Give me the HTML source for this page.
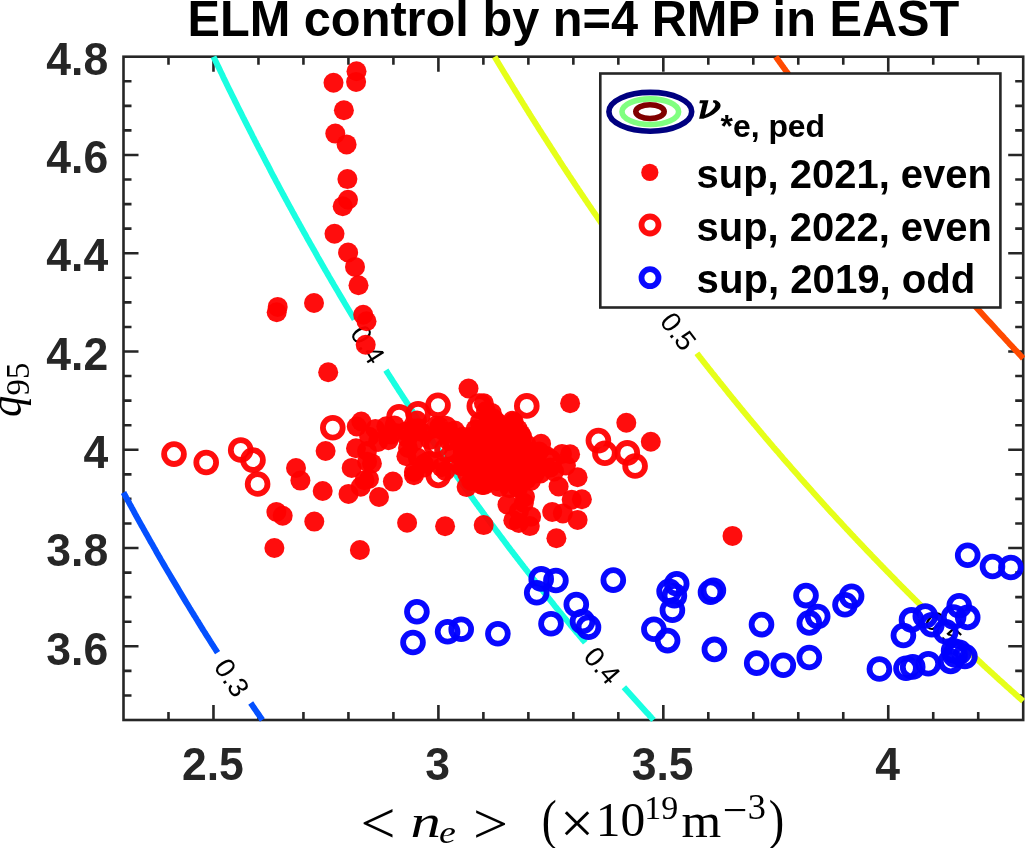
<!DOCTYPE html>
<html lang="en"><head><meta charset="utf-8"><title>ELM control by n=4 RMP in EAST</title>
<style>html,body{margin:0;padding:0;background:#fff;}body{width:1025px;height:848px;overflow:hidden;}svg{display:block;}.sans{font-family:"Liberation Sans",Arial,Helvetica,sans-serif;}.serif{font-family:"Liberation Serif","DejaVu Serif",serif;}.dserif{font-family:"DejaVu Serif","Liberation Serif",serif;}</style></head><body>
<svg width="1025" height="848" viewBox="0 0 1025 848">
<rect x="0" y="0" width="1025" height="848" fill="#fff"/>
<defs><clipPath id="ax"><rect x="123.5" y="56.7" width="899.7" height="663.3"/></clipPath></defs>
<g stroke="#262626" stroke-width="2.6" fill="none" stroke-linecap="butt">
<path d="M168.49 720.0 V712.00 M168.49 56.7 V64.70 M213.47 720.0 V705.00 M213.47 56.7 V71.70 M258.46 720.0 V712.00 M258.46 56.7 V64.70 M303.44 720.0 V712.00 M303.44 56.7 V64.70 M348.43 720.0 V712.00 M348.43 56.7 V64.70 M393.41 720.0 V712.00 M393.41 56.7 V64.70 M438.40 720.0 V705.00 M438.40 56.7 V71.70 M483.38 720.0 V712.00 M483.38 56.7 V64.70 M528.37 720.0 V712.00 M528.37 56.7 V64.70 M573.35 720.0 V712.00 M573.35 56.7 V64.70 M618.34 720.0 V712.00 M618.34 56.7 V64.70 M663.32 720.0 V705.00 M663.32 56.7 V71.70 M708.31 720.0 V712.00 M708.31 56.7 V64.70 M753.29 720.0 V712.00 M753.29 56.7 V64.70 M798.28 720.0 V712.00 M798.28 56.7 V64.70 M843.26 720.0 V712.00 M843.26 56.7 V64.70 M888.25 720.0 V705.00 M888.25 56.7 V71.70 M933.23 720.0 V712.00 M933.23 56.7 V64.70 M978.22 720.0 V712.00 M978.22 56.7 V64.70 M123.5 695.43 H131.50 M1023.2 695.43 H1015.20 M123.5 670.87 H131.50 M1023.2 670.87 H1015.20 M123.5 646.30 H138.50 M1023.2 646.30 H1008.20 M123.5 621.73 H131.50 M1023.2 621.73 H1015.20 M123.5 597.17 H131.50 M1023.2 597.17 H1015.20 M123.5 572.60 H131.50 M1023.2 572.60 H1015.20 M123.5 548.03 H138.50 M1023.2 548.03 H1008.20 M123.5 523.47 H131.50 M1023.2 523.47 H1015.20 M123.5 498.90 H131.50 M1023.2 498.90 H1015.20 M123.5 474.33 H131.50 M1023.2 474.33 H1015.20 M123.5 449.77 H138.50 M1023.2 449.77 H1008.20 M123.5 425.20 H131.50 M1023.2 425.20 H1015.20 M123.5 400.63 H131.50 M1023.2 400.63 H1015.20 M123.5 376.07 H131.50 M1023.2 376.07 H1015.20 M123.5 351.50 H138.50 M1023.2 351.50 H1008.20 M123.5 326.93 H131.50 M1023.2 326.93 H1015.20 M123.5 302.37 H131.50 M1023.2 302.37 H1015.20 M123.5 277.80 H131.50 M1023.2 277.80 H1015.20 M123.5 253.23 H138.50 M1023.2 253.23 H1008.20 M123.5 228.67 H131.50 M1023.2 228.67 H1015.20 M123.5 204.10 H131.50 M1023.2 204.10 H1015.20 M123.5 179.53 H131.50 M1023.2 179.53 H1015.20 M123.5 154.97 H138.50 M1023.2 154.97 H1008.20 M123.5 130.40 H131.50 M1023.2 130.40 H1015.20 M123.5 105.83 H131.50 M1023.2 105.83 H1015.20 M123.5 81.27 H131.50 M1023.2 81.27 H1015.20"/>
<rect x="123.5" y="56.7" width="899.7" height="663.3" stroke-linejoin="miter"/>
</g>
<g>
<path d="M123.5 492.5 L124.4 494.2 L125.3 495.8 L126.2 497.5 L127.1 499.1 L128.0 500.8 L128.9 502.4 L129.8 504.1 L130.7 505.7 L131.6 507.4 L132.5 509.0 L133.4 510.6 L134.3 512.3 L135.1 513.9 L136.0 515.5 L136.9 517.1 L137.8 518.8 L138.7 520.4 L139.6 522.0 L140.5 523.6 L141.4 525.2 L142.3 526.8 L143.2 528.4 L144.1 530.0 L145.0 531.6 L145.9 533.2 L146.8 534.8 L147.7 536.4 L148.6 538.0 L149.5 539.6 L150.4 541.2 L151.3 542.8 L152.2 544.3 L153.1 545.9 L154.0 547.5 L154.9 549.0 L155.8 550.6 L156.6 552.2 L157.5 553.7 L158.4 555.3 L159.3 556.9 L160.2 558.4 L161.1 560.0 L162.0 561.5 L162.9 563.1 L163.8 564.6 L164.7 566.1 L165.6 567.7 L166.5 569.2 L167.4 570.7 L168.3 572.3 L169.2 573.8 L170.1 575.3 L171.0 576.9 L171.9 578.4 L172.8 579.9 L173.7 581.4 L174.6 582.9 L175.5 584.4 L176.4 585.9 L177.3 587.4 L178.2 588.9 L179.0 590.4 L179.9 591.9 L180.8 593.4 L181.7 594.9 L182.6 596.4 L183.5 597.9 L184.4 599.4 L185.3 600.9 L186.2 602.4 L187.1 603.8 L188.0 605.3 L188.9 606.8 L189.8 608.3 L190.7 609.7 L191.6 611.2 L192.5 612.7 L193.4 614.1 L194.3 615.6 L195.2 617.0 L196.1 618.5 L197.0 620.0 L197.9 621.4 L198.8 622.9 L199.7 624.3 L200.5 625.7 L201.4 627.2 L202.3 628.6 L203.2 630.1 L204.1 631.5 L205.0 632.9 L205.9 634.4 L206.8 635.8 L207.7 637.2 L208.6 638.6 L209.5 640.0 L210.4 641.5 L211.3 642.9 L212.2 644.3 L213.1 645.7 L214.0 647.1 L214.9 648.5 L215.8 649.9 L216.7 651.3 L217.6 652.7 M250.7 703.0 L251.6 704.3 L252.5 705.6 L253.4 707.0 L254.3 708.3 L255.2 709.6 L256.1 710.9 L257.0 712.2 L257.9 713.5 L258.8 714.8 L259.7 716.1 L260.6 717.4 L261.5 718.7 L262.4 720.0" fill="none" stroke="#0450ff" stroke-width="6" stroke-linecap="butt" stroke-linejoin="round"/>
<text class="sans" x="232.1" y="677.6" font-size="28" text-anchor="middle" dy="10" fill="#000" transform="rotate(56.6 232.1 677.6)">0.3</text>
<path d="M213.5 56.7 L214.4 58.6 L215.3 60.5 L216.2 62.3 L217.1 64.2 L218.0 66.1 L218.9 67.9 L219.8 69.8 L220.7 71.7 L221.6 73.5 L222.5 75.4 L223.3 77.2 L224.2 79.1 L225.1 80.9 L226.0 82.8 L226.9 84.6 L227.8 86.5 L228.7 88.3 L229.6 90.1 L230.5 91.9 L231.4 93.8 L232.3 95.6 L233.2 97.4 L234.1 99.2 L235.0 101.1 L235.9 102.9 L236.8 104.7 L237.7 106.5 L238.6 108.3 L239.5 110.1 L240.4 111.9 L241.3 113.7 L242.2 115.5 L243.1 117.3 L244.0 119.0 L244.9 120.8 L245.8 122.6 L246.7 124.4 L247.6 126.2 L248.5 127.9 L249.4 129.7 L250.3 131.5 L251.2 133.2 L252.1 135.0 L253.0 136.8 L253.9 138.5 L254.8 140.3 L255.7 142.0 L256.6 143.8 L257.5 145.5 L258.4 147.3 L259.3 149.0 L260.2 150.7 L261.1 152.5 L262.0 154.2 L262.9 155.9 L263.8 157.7 L264.7 159.4 L265.6 161.1 L266.5 162.8 L267.4 164.5 L268.3 166.2 L269.2 168.0 L270.1 169.7 L270.9 171.4 L271.8 173.1 L272.7 174.8 L273.6 176.5 L274.5 178.2 L275.4 179.9 L276.3 181.6 L277.2 183.2 L278.1 184.9 L279.0 186.6 L279.9 188.3 L280.8 190.0 L281.7 191.6 L282.6 193.3 L283.5 195.0 L284.4 196.7 L285.3 198.3 L286.2 200.0 L287.1 201.6 L288.0 203.3 L288.9 205.0 L289.8 206.6 L290.7 208.3 L291.6 209.9 L292.5 211.6 L293.4 213.2 L294.3 214.8 L295.2 216.5 L296.1 218.1 L297.0 219.7 L297.9 221.4 L298.8 223.0 L299.7 224.6 L300.6 226.3 L301.5 227.9 L302.4 229.5 L303.3 231.1 L304.2 232.7 L305.1 234.3 L306.0 235.9 L306.9 237.6 L307.8 239.2 L308.7 240.8 L309.6 242.4 L310.5 244.0 L311.4 245.5 L312.3 247.1 L313.2 248.7 L314.1 250.3 L315.0 251.9 L315.9 253.5 L316.8 255.1 L317.6 256.6 L318.5 258.2 L319.4 259.8 L320.3 261.4 L321.2 262.9 L322.1 264.5 L323.0 266.1 L323.9 267.6 L324.8 269.2 L325.7 270.8 L326.6 272.3 L327.5 273.9 L328.4 275.4 L329.3 277.0 L330.2 278.5 L331.1 280.1 L332.0 281.6 L332.9 283.1 L333.8 284.7 L334.7 286.2 L335.6 287.7 L336.5 289.3 L337.4 290.8 L338.3 292.3 L339.2 293.9 L340.1 295.4 L341.0 296.9 L341.9 298.4 L342.8 299.9 L343.7 301.4 L344.6 303.0 L345.5 304.5 L346.4 306.0 L347.3 307.5 L348.2 309.0 L349.1 310.5 L350.0 312.0 L350.9 313.5 L351.8 315.0 L352.7 316.5 L353.6 318.0 L354.5 319.4 M385.9 370.2 L386.8 371.6 L387.7 373.1 L388.6 374.5 L389.5 375.9 L390.4 377.3 L391.3 378.7 L392.2 380.1 L393.1 381.5 L394.0 382.9 L394.9 384.3 L395.8 385.7 L396.7 387.1 L397.6 388.5 L398.5 389.9 L399.4 391.3 L400.3 392.6 L401.2 394.0 L402.1 395.4 L403.0 396.8 L403.9 398.2 L404.8 399.5 L405.7 400.9 L406.6 402.3 L407.5 403.7 L408.4 405.0 L409.3 406.4 L410.2 407.8 L411.1 409.1 L412.0 410.5 L412.8 411.8 L413.7 413.2 L414.6 414.6 L415.5 415.9 L416.4 417.3 L417.3 418.6 L418.2 420.0 L419.1 421.3 L420.0 422.7 L420.9 424.0 L421.8 425.3 L422.7 426.7 L423.6 428.0 L424.5 429.4 L425.4 430.7 L426.3 432.0 L427.2 433.4 L428.1 434.7 L429.0 436.0 L429.9 437.3 L430.8 438.7 L431.7 440.0 L432.6 441.3 L433.5 442.6 L434.4 443.9 L435.3 445.3 L436.2 446.6 L437.1 447.9 L438.0 449.2 L438.9 450.5 L439.8 451.8 L440.7 453.1 L441.6 454.4 L442.5 455.7 L443.4 457.0 L444.3 458.3 L445.2 459.6 L446.1 460.9 L447.0 462.2 L447.9 463.5 L448.8 464.8 L449.7 466.1 L450.6 467.3 L451.5 468.6 L452.4 469.9 L453.3 471.2 L454.2 472.5 L455.1 473.7 L456.0 475.0 L456.9 476.3 L457.8 477.6 L458.7 478.8 L459.6 480.1 L460.4 481.4 L461.3 482.6 L462.2 483.9 L463.1 485.2 L464.0 486.4 L464.9 487.7 L465.8 488.9 L466.7 490.2 L467.6 491.4 L468.5 492.7 L469.4 493.9 L470.3 495.2 L471.2 496.4 L472.1 497.7 L473.0 498.9 L473.9 500.2 L474.8 501.4 L475.7 502.7 L476.6 503.9 L477.5 505.1 L478.4 506.4 L479.3 507.6 L480.2 508.8 L481.1 510.1 L482.0 511.3 L482.9 512.5 L483.8 513.7 L484.7 515.0 L485.6 516.2 L486.5 517.4 L487.4 518.6 L488.3 519.8 L489.2 521.1 L490.1 522.3 L491.0 523.5 L491.9 524.7 L492.8 525.9 L493.7 527.1 L494.6 528.3 L495.5 529.5 L496.4 530.7 L497.3 531.9 L498.2 533.1 L499.1 534.3 L500.0 535.5 L500.9 536.7 L501.8 537.9 L502.7 539.1 L503.6 540.3 L504.5 541.5 L505.4 542.7 L506.3 543.9 L507.1 545.0 L508.0 546.2 L508.9 547.4 L509.8 548.6 L510.7 549.8 L511.6 550.9 L512.5 552.1 L513.4 553.3 L514.3 554.5 L515.2 555.6 L516.1 556.8 L517.0 558.0 L517.9 559.1 L518.8 560.3 L519.7 561.5 L520.6 562.6 L521.5 563.8 L522.4 565.0 L523.3 566.1 L524.2 567.3 L525.1 568.4 L526.0 569.6 L526.9 570.7 L527.8 571.9 L528.7 573.0 L529.6 574.2 L530.5 575.3 L531.4 576.5 L532.3 577.6 L533.2 578.8 L534.1 579.9 L535.0 581.0 L535.9 582.2 L536.8 583.3 L537.7 584.5 L538.6 585.6 L539.5 586.7 L540.4 587.9 L541.3 589.0 L542.2 590.1 L543.1 591.2 L544.0 592.4 L544.9 593.5 L545.8 594.6 L546.7 595.7 L547.6 596.9 L548.5 598.0 L549.4 599.1 L550.3 600.2 L551.2 601.3 L552.1 602.4 L553.0 603.5 L553.9 604.7 L554.7 605.8 L555.6 606.9 L556.5 608.0 L557.4 609.1 L558.3 610.2 L559.2 611.3 L560.1 612.4 L561.0 613.5 L561.9 614.6 L562.8 615.7 L563.7 616.8 L564.6 617.9 L565.5 619.0 L566.4 620.1 L567.3 621.1 L568.2 622.2 L569.1 623.3 L570.0 624.4 L570.9 625.5 L571.8 626.6 L572.7 627.7 L573.6 628.7 L574.5 629.8 L575.4 630.9 L576.3 632.0 L577.2 633.1 L578.1 634.1 L579.0 635.2 L579.9 636.3 L580.8 637.3 L581.7 638.4 L582.6 639.5 L583.5 640.6 L584.4 641.6 L585.3 642.7 M623.9 687.3 L624.8 688.3 L625.7 689.3 L626.6 690.3 L627.5 691.3 L628.4 692.3 L629.3 693.3 L630.2 694.3 L631.1 695.3 L632.0 696.3 L632.9 697.3 L633.8 698.3 L634.7 699.3 L635.6 700.3 L636.5 701.3 L637.4 702.3 L638.3 703.3 L639.2 704.3 L640.1 705.3 L641.0 706.3 L641.9 707.3 L642.8 708.2 L643.7 709.2 L644.6 710.2 L645.5 711.2 L646.4 712.2 L647.3 713.2 L648.2 714.1 L649.1 715.1 L649.9 716.1 L650.8 717.1 L651.7 718.1 L652.6 719.0 L653.5 720.0" fill="none" stroke="#19ffe1" stroke-width="6" stroke-linecap="butt" stroke-linejoin="round"/>
<text class="sans" x="367.9" y="344.4" font-size="28" text-anchor="middle" dy="10" fill="#000" transform="rotate(58.3 367.9 344.4)">0.4</text>
<text class="sans" x="602.6" y="665.4" font-size="28" text-anchor="middle" dy="10" fill="#000" transform="rotate(49.1 602.6 665.4)">0.4</text>
<path d="M494.6 56.7 L495.5 58.2 L496.4 59.7 L497.3 61.2 L498.2 62.7 L499.1 64.2 L500.0 65.7 L500.9 67.2 L501.8 68.7 L502.7 70.2 L503.6 71.7 L504.5 73.2 L505.4 74.7 L506.3 76.1 L507.2 77.6 L508.1 79.1 L509.0 80.6 L509.9 82.1 L510.8 83.5 L511.7 85.0 L512.6 86.5 L513.5 88.0 L514.4 89.4 L515.3 90.9 L516.2 92.3 L517.1 93.8 L518.0 95.3 L518.9 96.7 L519.8 98.2 L520.7 99.6 L521.6 101.1 L522.5 102.5 L523.4 104.0 L524.3 105.4 L525.2 106.9 L526.1 108.3 L527.0 109.8 L527.9 111.2 L528.8 112.6 L529.7 114.1 L530.6 115.5 L531.5 117.0 L532.4 118.4 L533.3 119.8 L534.2 121.2 L535.1 122.7 L536.0 124.1 L536.9 125.5 L537.8 126.9 L538.7 128.4 L539.6 129.8 L540.5 131.2 L541.4 132.6 L542.3 134.0 L543.2 135.4 L544.1 136.8 L545.0 138.2 L545.9 139.6 L546.8 141.0 L547.7 142.4 L548.6 143.8 L549.5 145.2 L550.4 146.6 L551.3 148.0 L552.2 149.4 L553.1 150.8 L554.0 152.2 L554.9 153.6 L555.8 155.0 L556.7 156.4 L557.6 157.7 L558.5 159.1 L559.3 160.5 L560.2 161.9 L561.1 163.3 L562.0 164.6 L562.9 166.0 L563.8 167.4 L564.7 168.7 L565.6 170.1 L566.5 171.5 L567.4 172.8 L568.3 174.2 L569.2 175.6 L570.1 176.9 L571.0 178.3 L571.9 179.6 L572.8 181.0 L573.7 182.3 L574.6 183.7 L575.5 185.0 L576.4 186.4 L577.3 187.7 L578.2 189.1 L579.1 190.4 L580.0 191.8 L580.9 193.1 L581.8 194.4 L582.7 195.8 L583.6 197.1 L584.5 198.4 L585.4 199.8 L586.3 201.1 L587.2 202.4 L588.1 203.8 L589.0 205.1 L589.9 206.4 L590.8 207.7 L591.7 209.1 L592.6 210.4 L593.5 211.7 L594.4 213.0 L595.3 214.3 L596.2 215.6 L597.1 216.9 L598.0 218.3 L598.9 219.6 L599.8 220.9 L600.7 222.2 L601.6 223.5 L602.5 224.8 L603.4 226.1 L604.3 227.4 L605.2 228.7 L606.1 230.0 L607.0 231.3 L607.9 232.6 L608.8 233.8 L609.7 235.1 L610.6 236.4 L611.5 237.7 L612.4 239.0 L613.3 240.3 L614.2 241.6 L615.1 242.8 L616.0 244.1 L616.9 245.4 L617.8 246.7 L618.7 247.9 L619.6 249.2 L620.5 250.5 L621.4 251.8 L622.3 253.0 L623.2 254.3 L624.1 255.6 L625.0 256.8 L625.9 258.1 L626.8 259.3 L627.7 260.6 L628.6 261.9 L629.5 263.1 L630.4 264.4 L631.3 265.6 L632.2 266.9 L633.1 268.1 L634.0 269.4 L634.9 270.6 L635.8 271.9 L636.7 273.1 L637.6 274.4 L638.5 275.6 L639.4 276.8 L640.3 278.1 L641.2 279.3 L642.1 280.6 L643.0 281.8 L643.8 283.0 L644.7 284.3 L645.6 285.5 L646.5 286.7 L647.4 287.9 L648.3 289.2 L649.2 290.4 L650.1 291.6 L651.0 292.8 L651.9 294.1 L652.8 295.3 L653.7 296.5 L654.6 297.7 L655.5 298.9 L656.4 300.1 L657.3 301.3 L658.2 302.6 L659.1 303.8 M696.9 353.3 L697.8 354.5 L698.7 355.6 L699.6 356.8 L700.5 357.9 L701.4 359.1 L702.3 360.2 L703.2 361.4 L704.1 362.5 L705.0 363.7 L705.9 364.8 L706.8 365.9 L707.7 367.1 L708.6 368.2 L709.5 369.4 L710.4 370.5 L711.3 371.6 L712.2 372.8 L713.1 373.9 L714.0 375.0 L714.9 376.1 L715.8 377.3 L716.7 378.4 L717.6 379.5 L718.5 380.6 L719.4 381.8 L720.3 382.9 L721.2 384.0 L722.1 385.1 L723.0 386.2 L723.9 387.3 L724.8 388.5 L725.7 389.6 L726.6 390.7 L727.5 391.8 L728.3 392.9 L729.2 394.0 L730.1 395.1 L731.0 396.2 L731.9 397.3 L732.8 398.4 L733.7 399.5 L734.6 400.6 L735.5 401.7 L736.4 402.8 L737.3 403.9 L738.2 405.0 L739.1 406.1 L740.0 407.2 L740.9 408.3 L741.8 409.4 L742.7 410.5 L743.6 411.6 L744.5 412.7 L745.4 413.8 L746.3 414.8 L747.2 415.9 L748.1 417.0 L749.0 418.1 L749.9 419.2 L750.8 420.3 L751.7 421.3 L752.6 422.4 L753.5 423.5 L754.4 424.6 L755.3 425.6 L756.2 426.7 L757.1 427.8 L758.0 428.8 L758.9 429.9 L759.8 431.0 L760.7 432.0 L761.6 433.1 L762.5 434.2 L763.4 435.2 L764.3 436.3 L765.2 437.4 L766.1 438.4 L767.0 439.5 L767.9 440.5 L768.8 441.6 L769.7 442.7 L770.6 443.7 L771.5 444.8 L772.4 445.8 L773.3 446.9 L774.2 447.9 L775.1 449.0 L776.0 450.0 L776.9 451.1 L777.8 452.1 L778.7 453.1 L779.6 454.2 L780.5 455.2 L781.4 456.3 L782.3 457.3 L783.2 458.4 L784.1 459.4 L785.0 460.4 L785.9 461.5 L786.8 462.5 L787.7 463.5 L788.6 464.6 L789.5 465.6 L790.4 466.6 L791.3 467.7 L792.2 468.7 L793.1 469.7 L794.0 470.7 L794.9 471.8 L795.8 472.8 L796.7 473.8 L797.6 474.8 L798.5 475.8 L799.4 476.9 L800.3 477.9 L801.2 478.9 L802.1 479.9 L803.0 480.9 L803.9 481.9 L804.8 483.0 L805.7 484.0 L806.6 485.0 L807.5 486.0 L808.4 487.0 L809.3 488.0 L810.2 489.0 L811.1 490.0 L812.0 491.0 L812.8 492.0 L813.7 493.0 L814.6 494.0 L815.5 495.0 L816.4 496.0 L817.3 497.0 L818.2 498.0 L819.1 499.0 L820.0 500.0 L820.9 501.0 L821.8 502.0 L822.7 503.0 L823.6 504.0 L824.5 505.0 L825.4 506.0 L826.3 506.9 L827.2 507.9 L828.1 508.9 L829.0 509.9 L829.9 510.9 L830.8 511.9 L831.7 512.9 L832.6 513.8 L833.5 514.8 L834.4 515.8 L835.3 516.8 L836.2 517.7 L837.1 518.7 L838.0 519.7 L838.9 520.7 L839.8 521.6 L840.7 522.6 L841.6 523.6 L842.5 524.6 L843.4 525.5 L844.3 526.5 L845.2 527.5 L846.1 528.4 L847.0 529.4 L847.9 530.3 L848.8 531.3 L849.7 532.3 L850.6 533.2 L851.5 534.2 L852.4 535.2 L853.3 536.1 L854.2 537.1 L855.1 538.0 L856.0 539.0 L856.9 539.9 L857.8 540.9 L858.7 541.8 L859.6 542.8 L860.5 543.7 L861.4 544.7 L862.3 545.6 L863.2 546.6 L864.1 547.5 L865.0 548.5 L865.9 549.4 L866.8 550.4 L867.7 551.3 L868.6 552.2 L869.5 553.2 L870.4 554.1 L871.3 555.1 L872.2 556.0 L873.1 556.9 L874.0 557.9 L874.9 558.8 L875.8 559.7 L876.7 560.7 L877.6 561.6 L878.5 562.5 L879.4 563.5 L880.3 564.4 L881.2 565.3 L882.1 566.3 L883.0 567.2 L883.9 568.1 L884.8 569.0 L885.7 570.0 L886.6 570.9 L887.5 571.8 L888.4 572.7 L889.3 573.6 L890.2 574.6 L891.1 575.5 L892.0 576.4 L892.9 577.3 L893.8 578.2 L894.7 579.1 L895.6 580.1 L896.5 581.0 L897.3 581.9 L898.2 582.8 L899.1 583.7 L900.0 584.6 L900.9 585.5 L901.8 586.4 L902.7 587.3 L903.6 588.2 L904.5 589.1 L905.4 590.0 L906.3 590.9 L907.2 591.8 L908.1 592.7 L909.0 593.6 L909.9 594.5 L910.8 595.4 L911.7 596.3 L912.6 597.2 L913.5 598.1 L914.4 599.0 L915.3 599.9 L916.2 600.8 L917.1 601.7 L918.0 602.6 L918.9 603.5 L919.8 604.4 L920.7 605.3 L921.6 606.2 M966.6 649.5 L967.5 650.3 L968.4 651.1 L969.3 652.0 L970.2 652.8 L971.1 653.7 L972.0 654.5 L972.9 655.4 L973.8 656.2 L974.7 657.0 L975.6 657.9 L976.5 658.7 L977.4 659.5 L978.3 660.4 L979.2 661.2 L980.1 662.0 L981.0 662.9 L981.8 663.7 L982.7 664.5 L983.6 665.4 L984.5 666.2 L985.4 667.0 L986.3 667.9 L987.2 668.7 L988.1 669.5 L989.0 670.3 L989.9 671.2 L990.8 672.0 L991.7 672.8 L992.6 673.6 L993.5 674.5 L994.4 675.3 L995.3 676.1 L996.2 676.9 L997.1 677.7 L998.0 678.6 L998.9 679.4 L999.8 680.2 L1000.7 681.0 L1001.6 681.8 L1002.5 682.6 L1003.4 683.4 L1004.3 684.3 L1005.2 685.1 L1006.1 685.9 L1007.0 686.7 L1007.9 687.5 L1008.8 688.3 L1009.7 689.1 L1010.6 689.9 L1011.5 690.7 L1012.4 691.5 L1013.3 692.3 L1014.2 693.1 L1015.1 693.9 L1016.0 694.8 L1016.9 695.6 L1017.8 696.4 L1018.7 697.2 L1019.6 698.0 L1020.5 698.8 L1021.4 699.6 L1022.3 700.3 L1023.2 701.1" fill="none" stroke="#e6ff19" stroke-width="6" stroke-linecap="butt" stroke-linejoin="round"/>
<text class="sans" x="678.5" y="331.2" font-size="28" text-anchor="middle" dy="10" fill="#000" transform="rotate(52.7 678.5 331.2)">0.5</text>
<text class="sans" x="943.1" y="629.1" font-size="28" text-anchor="middle" dy="10" fill="#000" transform="rotate(43.9 943.1 629.1)">0.5</text>
<path d="M775.8 56.7 L776.7 58.0 L777.6 59.2 L778.5 60.5 L779.4 61.7 L780.3 63.0 L781.2 64.2 L782.1 65.5 L783.0 66.7 L783.9 68.0 L784.8 69.2 L785.7 70.5 L786.6 71.7 L787.5 72.9 L788.4 74.2 L789.3 75.4 L790.2 76.7 L791.1 77.9 L792.0 79.1 L792.9 80.4 L793.8 81.6 L794.7 82.8 L795.6 84.1 L796.5 85.3 L797.4 86.5 L798.3 87.7 L799.2 89.0 L800.1 90.2 L801.0 91.4 L801.9 92.6 L802.8 93.8 L803.7 95.1 L804.6 96.3 L805.5 97.5 L806.4 98.7 L807.3 99.9 L808.2 101.1 L809.1 102.3 L810.0 103.5 L810.9 104.8 L811.8 106.0 L812.7 107.2 L813.6 108.4 L814.5 109.6 L815.4 110.8 L816.3 112.0 L817.2 113.2 L818.1 114.4 L819.0 115.6 L819.9 116.8 L820.8 118.0 L821.7 119.1 L822.6 120.3 L823.5 121.5 L824.4 122.7 L825.3 123.9 L826.2 125.1 L827.1 126.3 L828.0 127.5 L828.9 128.6 L829.8 129.8 L830.7 131.0 L831.6 132.2 L832.5 133.4 L833.4 134.5 L834.3 135.7 L835.2 136.9 L836.1 138.1 L837.0 139.2 L837.9 140.4 L838.8 141.6 L839.7 142.7 L840.6 143.9 L841.5 145.1 L842.4 146.2 L843.3 147.4 L844.2 148.6 L845.1 149.7 L846.0 150.9 L846.9 152.0 L847.8 153.2 L848.7 154.4 L849.6 155.5 L850.5 156.7 L851.4 157.8 L852.3 159.0 L853.2 160.1 L854.1 161.3 L855.0 162.4 L855.9 163.6 L856.8 164.7 L857.7 165.9 L858.6 167.0 L859.5 168.1 L860.4 169.3 L861.3 170.4 L862.2 171.6 L863.1 172.7 L864.0 173.8 L864.9 175.0 L865.8 176.1 L866.7 177.2 L867.6 178.4 L868.5 179.5 L869.4 180.6 L870.3 181.8 L871.2 182.9 L872.1 184.0 L873.0 185.1 L873.8 186.3 L874.7 187.4 L875.6 188.5 L876.5 189.6 L877.4 190.8 L878.3 191.9 L879.2 193.0 L880.1 194.1 L881.0 195.2 L881.9 196.3 L882.8 197.4 L883.7 198.6 L884.6 199.7 L885.5 200.8 L886.4 201.9 L887.3 203.0 L888.2 204.1 L889.1 205.2 L890.0 206.3 L890.9 207.4 L891.8 208.5 L892.7 209.6 L893.6 210.7 L894.5 211.8 L895.4 212.9 L896.3 214.0 L897.2 215.1 L898.1 216.2 L899.0 217.3 L899.9 218.4 L900.8 219.5 L901.7 220.6 L902.6 221.6 L903.5 222.7 L904.4 223.8 L905.3 224.9 L906.2 226.0 L907.1 227.1 L908.0 228.2 L908.9 229.2 L909.8 230.3 L910.7 231.4 L911.6 232.5 L912.5 233.6 L913.4 234.6 L914.3 235.7 L915.2 236.8 L916.1 237.8 L917.0 238.9 L917.9 240.0 L918.8 241.1 L919.7 242.1 L920.6 243.2 L921.5 244.3 L922.4 245.3 L923.3 246.4 L924.2 247.5 L925.1 248.5 L926.0 249.6 L926.9 250.6 L927.8 251.7 L928.7 252.8 L929.6 253.8 L930.5 254.9 L931.4 255.9 L932.3 257.0 L933.2 258.0 L934.1 259.1 L935.0 260.1 L935.9 261.2 L936.8 262.2 L937.7 263.3 L938.6 264.3 L939.5 265.4 L940.4 266.4 L941.3 267.5 L942.2 268.5 L943.1 269.5 L944.0 270.6 L944.9 271.6 L945.8 272.7 L946.7 273.7 L947.6 274.7 L948.5 275.8 L949.4 276.8 L950.3 277.8 L951.2 278.9 L952.1 279.9 L953.0 280.9 L953.9 282.0 L954.8 283.0 L955.7 284.0 L956.6 285.0 L957.5 286.1 L958.4 287.1 L959.3 288.1 L960.2 289.1 L961.1 290.2 L962.0 291.2 L962.9 292.2 L963.8 293.2 L964.7 294.2 L965.6 295.3 L966.5 296.3 L967.4 297.3 L968.3 298.3 L969.2 299.3 L970.1 300.3 L971.0 301.3 L971.9 302.3 L972.8 303.4 L973.7 304.4 L974.6 305.4 L975.5 306.4 L976.4 307.4 L977.3 308.4 L978.2 309.4 L979.1 310.4 L980.0 311.4 L980.9 312.4 L981.8 313.4 L982.7 314.4 L983.6 315.4 L984.5 316.4 L985.4 317.4 L986.3 318.4 L987.2 319.4 L988.1 320.4 L989.0 321.4 L989.9 322.3 L990.8 323.3 L991.7 324.3 L992.6 325.3 L993.5 326.3 L994.4 327.3 L995.3 328.3 L996.2 329.3 L997.1 330.2 L998.0 331.2 L998.9 332.2 L999.8 333.2 L1000.7 334.2 L1001.6 335.1 L1002.5 336.1 L1003.4 337.1 L1004.3 338.1 L1005.2 339.0 L1006.1 340.0 L1007.0 341.0 L1007.9 342.0 L1008.8 342.9 L1009.7 343.9 L1010.6 344.9 L1011.5 345.8 L1012.4 346.8 L1013.3 347.8 L1014.2 348.7 L1015.1 349.7 L1016.0 350.7 L1016.9 351.6 L1017.8 352.6 L1018.7 353.6 L1019.6 354.5 L1020.5 355.5 L1021.4 356.4 L1022.3 357.4 L1023.2 358.4" fill="none" stroke="#ff4a00" stroke-width="6" stroke-linecap="butt" stroke-linejoin="round"/>
</g>
<g>
<g fill="#ff0000" fill-opacity="0.95">
<circle cx="356.5" cy="71.2" r="10"/>
<circle cx="333.5" cy="82.7" r="10"/>
<circle cx="356.1" cy="81.9" r="10"/>
<circle cx="343.9" cy="110.2" r="10"/>
<circle cx="335.3" cy="133.6" r="10"/>
<circle cx="346.6" cy="144.4" r="10"/>
<circle cx="347.4" cy="179.1" r="10"/>
<circle cx="348.0" cy="199.8" r="10"/>
<circle cx="342.7" cy="206.2" r="10"/>
<circle cx="334.5" cy="233.7" r="10"/>
<circle cx="348.1" cy="252.5" r="10"/>
<circle cx="355.0" cy="266.9" r="10"/>
<circle cx="358.5" cy="285.2" r="10"/>
<circle cx="277.7" cy="306.9" r="10"/>
<circle cx="276.7" cy="312.2" r="10"/>
<circle cx="314.0" cy="303.0" r="10"/>
<circle cx="363.2" cy="314.7" r="10"/>
<circle cx="366.5" cy="321.3" r="10"/>
<circle cx="365.7" cy="344.8" r="10"/>
<circle cx="328.2" cy="372.3" r="10"/>
<circle cx="325.6" cy="451.0" r="10"/>
<circle cx="296.0" cy="468.0" r="10"/>
<circle cx="300.4" cy="480.6" r="10"/>
<circle cx="322.7" cy="491.0" r="10"/>
<circle cx="276.4" cy="511.9" r="10"/>
<circle cx="282.7" cy="515.8" r="10"/>
<circle cx="314.3" cy="521.6" r="10"/>
<circle cx="274.4" cy="548.0" r="10"/>
<circle cx="359.9" cy="550.0" r="10"/>
<circle cx="407.1" cy="522.8" r="10"/>
<circle cx="445.1" cy="526.3" r="10"/>
<circle cx="483.7" cy="525.1" r="10"/>
<circle cx="732.5" cy="535.9" r="10"/>
<circle cx="570.1" cy="403.2" r="10"/>
<circle cx="626.3" cy="422.7" r="10"/>
<circle cx="650.8" cy="441.7" r="10"/>
<circle cx="468.5" cy="388.5" r="10"/>
<circle cx="361.3" cy="421.5" r="10"/>
<circle cx="356.8" cy="426.5" r="10"/>
<circle cx="375.3" cy="429.0" r="10"/>
<circle cx="386.3" cy="426.2" r="10"/>
<circle cx="388.5" cy="440.2" r="10"/>
<circle cx="391.0" cy="434.6" r="10"/>
<circle cx="356.0" cy="448.3" r="10"/>
<circle cx="351.7" cy="467.9" r="10"/>
<circle cx="367.0" cy="451.0" r="10"/>
<circle cx="367.1" cy="461.7" r="10"/>
<circle cx="371.9" cy="463.4" r="10"/>
<circle cx="369.0" cy="479.0" r="10"/>
<circle cx="360.7" cy="486.8" r="10"/>
<circle cx="348.5" cy="493.9" r="10"/>
<circle cx="379.0" cy="497.0" r="10"/>
<circle cx="392.9" cy="481.6" r="10"/>
<circle cx="364.5" cy="480.3" r="10"/>
<circle cx="413.9" cy="428.5" r="10"/>
<circle cx="408.0" cy="448.0" r="10"/>
<circle cx="417.8" cy="457.8" r="10"/>
<circle cx="413.9" cy="472.0" r="10"/>
<circle cx="423.7" cy="467.6" r="10"/>
<circle cx="406.4" cy="456.2" r="10"/>
<circle cx="407.7" cy="438.4" r="10"/>
<circle cx="417.8" cy="428.3" r="10"/>
<circle cx="424.0" cy="463.8" r="10"/>
<circle cx="414.0" cy="475.2" r="10"/>
<circle cx="439.3" cy="426.6" r="10"/>
<circle cx="454.9" cy="430.5" r="10"/>
<circle cx="466.6" cy="487.1" r="10"/>
<circle cx="482.2" cy="485.1" r="10"/>
<circle cx="486.0" cy="411.0" r="10"/>
<circle cx="494.0" cy="418.8" r="10"/>
<circle cx="512.4" cy="420.7" r="10"/>
<circle cx="507.5" cy="504.6" r="10"/>
<circle cx="513.3" cy="520.2" r="10"/>
<circle cx="525.0" cy="496.8" r="10"/>
<circle cx="541.1" cy="443.8" r="10"/>
<circle cx="521.0" cy="434.4" r="10"/>
<circle cx="483.9" cy="403.2" r="10"/>
<circle cx="491.7" cy="412.9" r="10"/>
<circle cx="562.0" cy="453.9" r="10"/>
<circle cx="570.1" cy="454.3" r="10"/>
<circle cx="565.9" cy="465.6" r="10"/>
<circle cx="577.6" cy="477.3" r="10"/>
<circle cx="558.6" cy="486.5" r="10"/>
<circle cx="571.7" cy="499.8" r="10"/>
<circle cx="581.9" cy="499.2" r="10"/>
<circle cx="552.2" cy="511.9" r="10"/>
<circle cx="562.9" cy="513.4" r="10"/>
<circle cx="577.6" cy="519.9" r="10"/>
<circle cx="556.4" cy="538.3" r="10"/>
<circle cx="523.9" cy="502.7" r="10"/>
<circle cx="531.1" cy="516.7" r="10"/>
<circle cx="529.8" cy="526.1" r="10"/>
<circle cx="483.9" cy="485.1" r="10"/>
<circle cx="499.5" cy="487.1" r="10"/>
<circle cx="526.8" cy="479.3" r="10"/>
<circle cx="540.5" cy="473.4" r="10"/>
<circle cx="550.2" cy="467.6" r="10"/>
<circle cx="534.6" cy="457.8" r="10"/>
<circle cx="479.8" cy="422.1" r="10"/>
<circle cx="488.2" cy="422.1" r="10"/>
<circle cx="496.8" cy="422.1" r="10"/>
<circle cx="513.8" cy="422.1" r="10"/>
<circle cx="475.5" cy="429.4" r="10"/>
<circle cx="484.0" cy="429.4" r="10"/>
<circle cx="492.5" cy="429.4" r="10"/>
<circle cx="501.0" cy="429.4" r="10"/>
<circle cx="509.5" cy="429.4" r="10"/>
<circle cx="518.0" cy="429.4" r="10"/>
<circle cx="462.8" cy="436.8" r="10"/>
<circle cx="471.2" cy="436.8" r="10"/>
<circle cx="479.8" cy="436.8" r="10"/>
<circle cx="488.2" cy="436.8" r="10"/>
<circle cx="496.8" cy="436.8" r="10"/>
<circle cx="505.2" cy="436.8" r="10"/>
<circle cx="513.8" cy="436.8" r="10"/>
<circle cx="522.2" cy="436.8" r="10"/>
<circle cx="467.0" cy="444.2" r="10"/>
<circle cx="475.5" cy="444.2" r="10"/>
<circle cx="484.0" cy="444.2" r="10"/>
<circle cx="492.5" cy="444.2" r="10"/>
<circle cx="501.0" cy="444.2" r="10"/>
<circle cx="509.5" cy="444.2" r="10"/>
<circle cx="518.0" cy="444.2" r="10"/>
<circle cx="526.5" cy="444.2" r="10"/>
<circle cx="462.8" cy="451.5" r="10"/>
<circle cx="471.2" cy="451.5" r="10"/>
<circle cx="479.8" cy="451.5" r="10"/>
<circle cx="488.2" cy="451.5" r="10"/>
<circle cx="496.8" cy="451.5" r="10"/>
<circle cx="505.2" cy="451.5" r="10"/>
<circle cx="513.8" cy="451.5" r="10"/>
<circle cx="522.2" cy="451.5" r="10"/>
<circle cx="530.8" cy="451.5" r="10"/>
<circle cx="539.2" cy="451.5" r="10"/>
<circle cx="467.0" cy="458.9" r="10"/>
<circle cx="475.5" cy="458.9" r="10"/>
<circle cx="484.0" cy="458.9" r="10"/>
<circle cx="492.5" cy="458.9" r="10"/>
<circle cx="501.0" cy="458.9" r="10"/>
<circle cx="509.5" cy="458.9" r="10"/>
<circle cx="518.0" cy="458.9" r="10"/>
<circle cx="526.5" cy="458.9" r="10"/>
<circle cx="535.0" cy="458.9" r="10"/>
<circle cx="462.8" cy="466.2" r="10"/>
<circle cx="471.2" cy="466.2" r="10"/>
<circle cx="479.8" cy="466.2" r="10"/>
<circle cx="488.2" cy="466.2" r="10"/>
<circle cx="496.8" cy="466.2" r="10"/>
<circle cx="505.2" cy="466.2" r="10"/>
<circle cx="513.8" cy="466.2" r="10"/>
<circle cx="522.2" cy="466.2" r="10"/>
<circle cx="530.8" cy="466.2" r="10"/>
<circle cx="539.2" cy="466.2" r="10"/>
<circle cx="467.0" cy="473.6" r="10"/>
<circle cx="475.5" cy="473.6" r="10"/>
<circle cx="484.0" cy="473.6" r="10"/>
<circle cx="492.5" cy="473.6" r="10"/>
<circle cx="501.0" cy="473.6" r="10"/>
<circle cx="509.5" cy="473.6" r="10"/>
<circle cx="518.0" cy="473.6" r="10"/>
<circle cx="526.5" cy="473.6" r="10"/>
<circle cx="535.0" cy="473.6" r="10"/>
<circle cx="471.2" cy="481.0" r="10"/>
<circle cx="479.8" cy="481.0" r="10"/>
<circle cx="488.2" cy="481.0" r="10"/>
<circle cx="496.8" cy="481.0" r="10"/>
<circle cx="505.2" cy="481.0" r="10"/>
<circle cx="513.8" cy="481.0" r="10"/>
<circle cx="522.2" cy="481.0" r="10"/>
<circle cx="530.8" cy="481.0" r="10"/>
<circle cx="509.5" cy="488.3" r="10"/>
<circle cx="518.0" cy="488.3" r="10"/>
<circle cx="394.5" cy="425.4" r="10"/>
<circle cx="417.0" cy="420.5" r="10"/>
<circle cx="406.0" cy="431.7" r="10"/>
<circle cx="413.6" cy="441.9" r="10"/>
<circle cx="421.2" cy="431.7" r="10"/>
<circle cx="436.4" cy="425.4" r="10"/>
<circle cx="447.8" cy="431.7" r="10"/>
<circle cx="460.5" cy="438.0" r="10"/>
<circle cx="454.1" cy="453.3" r="10"/>
<circle cx="460.5" cy="466.0" r="10"/>
<circle cx="445.3" cy="471.0" r="10"/>
<circle cx="441.5" cy="467.2" r="10"/>
<circle cx="369.2" cy="436.8" r="10"/>
<circle cx="378.0" cy="441.9" r="10"/>
<circle cx="519.0" cy="511.0" r="10"/>
<circle cx="518.8" cy="523.0" r="10"/>
<circle cx="546.3" cy="455.9" r="10"/>
<circle cx="554.1" cy="471.5" r="10"/>
<circle cx="428.8" cy="460.9" r="10"/>
<circle cx="430.0" cy="440.0" r="10"/>
<circle cx="449.0" cy="441.0" r="10"/>
</g>
<g fill="none" stroke="#ff0000" stroke-opacity="0.95" stroke-width="5.8">
<circle cx="174.0" cy="454.1" r="9.9"/>
<circle cx="206.2" cy="462.5" r="9.9"/>
<circle cx="240.7" cy="450.0" r="9.9"/>
<circle cx="253.0" cy="460.1" r="9.9"/>
<circle cx="257.6" cy="484.0" r="9.9"/>
<circle cx="332.8" cy="427.7" r="9.9"/>
<circle cx="399.1" cy="416.8" r="9.9"/>
<circle cx="418.1" cy="413.8" r="9.9"/>
<circle cx="438.0" cy="405.2" r="9.9"/>
<circle cx="479.3" cy="406.1" r="9.9"/>
<circle cx="526.8" cy="405.9" r="9.9"/>
<circle cx="436.3" cy="445.1" r="9.9"/>
<circle cx="447.0" cy="450.0" r="9.9"/>
<circle cx="438.3" cy="475.4" r="9.9"/>
<circle cx="445.0" cy="428.5" r="9.9"/>
<circle cx="549.3" cy="461.7" r="9.9"/>
<circle cx="598.4" cy="440.6" r="9.9"/>
<circle cx="604.9" cy="453.3" r="9.9"/>
<circle cx="627.3" cy="452.9" r="9.9"/>
<circle cx="635.1" cy="466.0" r="9.9"/>
</g>
<g fill="none" stroke="#0000ff" stroke-opacity="0.97" stroke-width="5.8">
<circle cx="416.9" cy="611.7" r="9.9"/>
<circle cx="413.0" cy="642.5" r="9.9"/>
<circle cx="447.6" cy="631.8" r="9.9"/>
<circle cx="461.2" cy="629.3" r="9.9"/>
<circle cx="497.9" cy="633.8" r="9.9"/>
<circle cx="541.2" cy="578.9" r="9.9"/>
<circle cx="555.9" cy="580.5" r="9.9"/>
<circle cx="536.7" cy="592.8" r="9.9"/>
<circle cx="551.0" cy="623.8" r="9.9"/>
<circle cx="576.3" cy="604.5" r="9.9"/>
<circle cx="582.5" cy="621.5" r="9.9"/>
<circle cx="588.5" cy="627.3" r="9.9"/>
<circle cx="613.3" cy="580.1" r="9.9"/>
<circle cx="676.7" cy="583.8" r="9.9"/>
<circle cx="669.1" cy="591.2" r="9.9"/>
<circle cx="674.4" cy="595.7" r="9.9"/>
<circle cx="672.4" cy="610.3" r="9.9"/>
<circle cx="653.9" cy="629.3" r="9.9"/>
<circle cx="667.6" cy="640.6" r="9.9"/>
<circle cx="710.5" cy="592.2" r="9.9"/>
<circle cx="713.4" cy="590.2" r="9.9"/>
<circle cx="714.4" cy="649.4" r="9.9"/>
<circle cx="761.5" cy="624.6" r="9.9"/>
<circle cx="756.7" cy="663.1" r="9.9"/>
<circle cx="783.3" cy="665.3" r="9.9"/>
<circle cx="809.3" cy="657.5" r="9.9"/>
<circle cx="806.0" cy="595.6" r="9.9"/>
<circle cx="817.7" cy="616.5" r="9.9"/>
<circle cx="809.3" cy="622.9" r="9.9"/>
<circle cx="851.6" cy="596.2" r="9.9"/>
<circle cx="845.0" cy="604.8" r="9.9"/>
<circle cx="879.4" cy="669.0" r="9.9"/>
<circle cx="903.4" cy="635.5" r="9.9"/>
<circle cx="911.5" cy="619.9" r="9.9"/>
<circle cx="906.0" cy="668.3" r="9.9"/>
<circle cx="912.7" cy="666.9" r="9.9"/>
<circle cx="928.3" cy="663.7" r="9.9"/>
<circle cx="925.3" cy="616.0" r="9.9"/>
<circle cx="931.9" cy="624.8" r="9.9"/>
<circle cx="967.7" cy="555.2" r="9.9"/>
<circle cx="992.5" cy="566.5" r="9.9"/>
<circle cx="1010.9" cy="567.5" r="9.9"/>
<circle cx="959.2" cy="605.7" r="9.9"/>
<circle cx="953.6" cy="617.0" r="9.9"/>
<circle cx="967.7" cy="617.4" r="9.9"/>
<circle cx="945.8" cy="631.8" r="9.9"/>
<circle cx="950.7" cy="661.4" r="9.9"/>
<circle cx="953.6" cy="650.8" r="9.9"/>
<circle cx="959.2" cy="652.2" r="9.9"/>
<circle cx="964.9" cy="656.5" r="9.9"/>
<circle cx="955.0" cy="655.0" r="9.9"/>
</g>
</g>
<g class="sans" font-weight="700" font-size="46" fill="#262626">
<text transform="translate(212.8 779.8) scale(0.967 1)" text-anchor="middle">2.5</text>
<text transform="translate(437.7 779.8) scale(0.967 1)" text-anchor="middle">3</text>
<text transform="translate(662.6 779.8) scale(0.967 1)" text-anchor="middle">3.5</text>
<text transform="translate(887.5 779.8) scale(0.967 1)" text-anchor="middle">4</text>
<text transform="translate(108.2 664.5) scale(0.967 1)" text-anchor="end">3.6</text>
<text transform="translate(108.2 566.2) scale(0.967 1)" text-anchor="end">3.8</text>
<text transform="translate(108.2 468.0) scale(0.967 1)" text-anchor="end">4</text>
<text transform="translate(108.2 369.7) scale(0.967 1)" text-anchor="end">4.2</text>
<text transform="translate(108.2 271.4) scale(0.967 1)" text-anchor="end">4.4</text>
<text transform="translate(108.2 173.2) scale(0.967 1)" text-anchor="end">4.6</text>
<text transform="translate(108.2 74.9) scale(0.967 1)" text-anchor="end">4.8</text>
</g>
<text class="sans" x="187.4" y="35.5" font-weight="700" font-size="50" fill="#000" textLength="772" lengthAdjust="spacingAndGlyphs">ELM control by n=4 RMP in EAST</text>
<g transform="rotate(-90)">
<text class="serif" font-style="italic" font-size="100" fill="#000" transform="translate(-416.98 20.76) scale(0.4267 0.4588)">q</text>
<text class="serif" font-size="100" fill="#000" transform="translate(-395.38 28.66) scale(0.3269 0.3424)">95</text>
</g>
<g>
<text class="serif" font-size="100" fill="#000" transform="translate(360.49 843.33) scale(0.6213 0.583)">&lt;</text>
<text class="serif" font-style="italic" font-size="100" fill="#000" transform="translate(410.57 836.8) scale(0.6071 0.4745)">n</text>
<text class="serif" font-style="italic" font-size="100" fill="#000" transform="translate(438.96 842.79) scale(0.3795 0.3125)">e</text>
<text class="serif" font-size="100" fill="#000" transform="translate(472.89 842.64) scale(0.6213 0.5708)">&gt;</text>
<text class="serif" font-size="100" fill="#000" transform="translate(541.8 837.54) scale(0.45 0.5456)">(</text>
<text class="serif" font-size="100" fill="#000" transform="translate(559.98 843.34) scale(0.6025 0.5875)">×</text>
<text class="serif" font-size="100" fill="#000" transform="translate(595.84 836.41) scale(0.4954 0.4941)">10</text>
<text class="serif" font-size="100" fill="#000" transform="translate(644.24 818.95) scale(0.3402 0.3463)">19</text>
<text class="serif" font-size="100" fill="#000" transform="translate(681.38 836.5) scale(0.5108 0.4766)">m</text>
<text class="serif" font-size="100" fill="#000" transform="translate(722.72 823.62) scale(0.4362 0.42)">−</text>
<text class="serif" font-size="100" fill="#000" transform="translate(747.68 818.95) scale(0.3634 0.3515)">3</text>
<text class="serif" font-size="100" fill="#000" transform="translate(768.8 837.57) scale(0.4654 0.5444)">)</text>
</g>
<rect x="600.3" y="73.5" width="400.1" height="234.0" fill="#fff" stroke="#262626" stroke-width="2.6"/>
<g fill="none" stroke-width="5.6">
<ellipse cx="650.3" cy="111.8" rx="41.4" ry="19.4" stroke="#000080"/>
<ellipse cx="650.3" cy="111.7" rx="28.3" ry="12.8" stroke="#80ff80"/>
<ellipse cx="650.0" cy="111.6" rx="14.2" ry="6.9" stroke="#800000"/>
</g>
<circle cx="649.8" cy="172.4" r="8.6" fill="#ff0000" fill-opacity="0.95"/>
<circle cx="650" cy="225" r="8.5" fill="none" stroke="#ff0000" stroke-opacity="0.95" stroke-width="5.8"/>
<circle cx="650" cy="277.7" r="8.5" fill="none" stroke="#0000ff" stroke-opacity="0.97" stroke-width="5.8"/>
<g class="sans" font-weight="700" font-size="40.5" fill="#000">
<text x="696.6" y="188.0" textLength="295.3" lengthAdjust="spacingAndGlyphs">sup, 2021, even</text>
<text x="696.6" y="240.7" textLength="295.3" lengthAdjust="spacingAndGlyphs">sup, 2022, even</text>
<text x="696.6" y="293.2" textLength="278.8" lengthAdjust="spacingAndGlyphs">sup, 2019, odd</text>
</g>
<text class="dserif" font-style="italic" stroke="#000" stroke-width="4" font-size="100" fill="#000" transform="translate(697.24 117.8) scale(0.3926 0.318)">ν</text>
<text class="sans" x="720.5" y="137.0" font-weight="700" font-size="30.5" fill="#000" textLength="104.6" lengthAdjust="spacingAndGlyphs">*e, ped</text>
</svg></body></html>
